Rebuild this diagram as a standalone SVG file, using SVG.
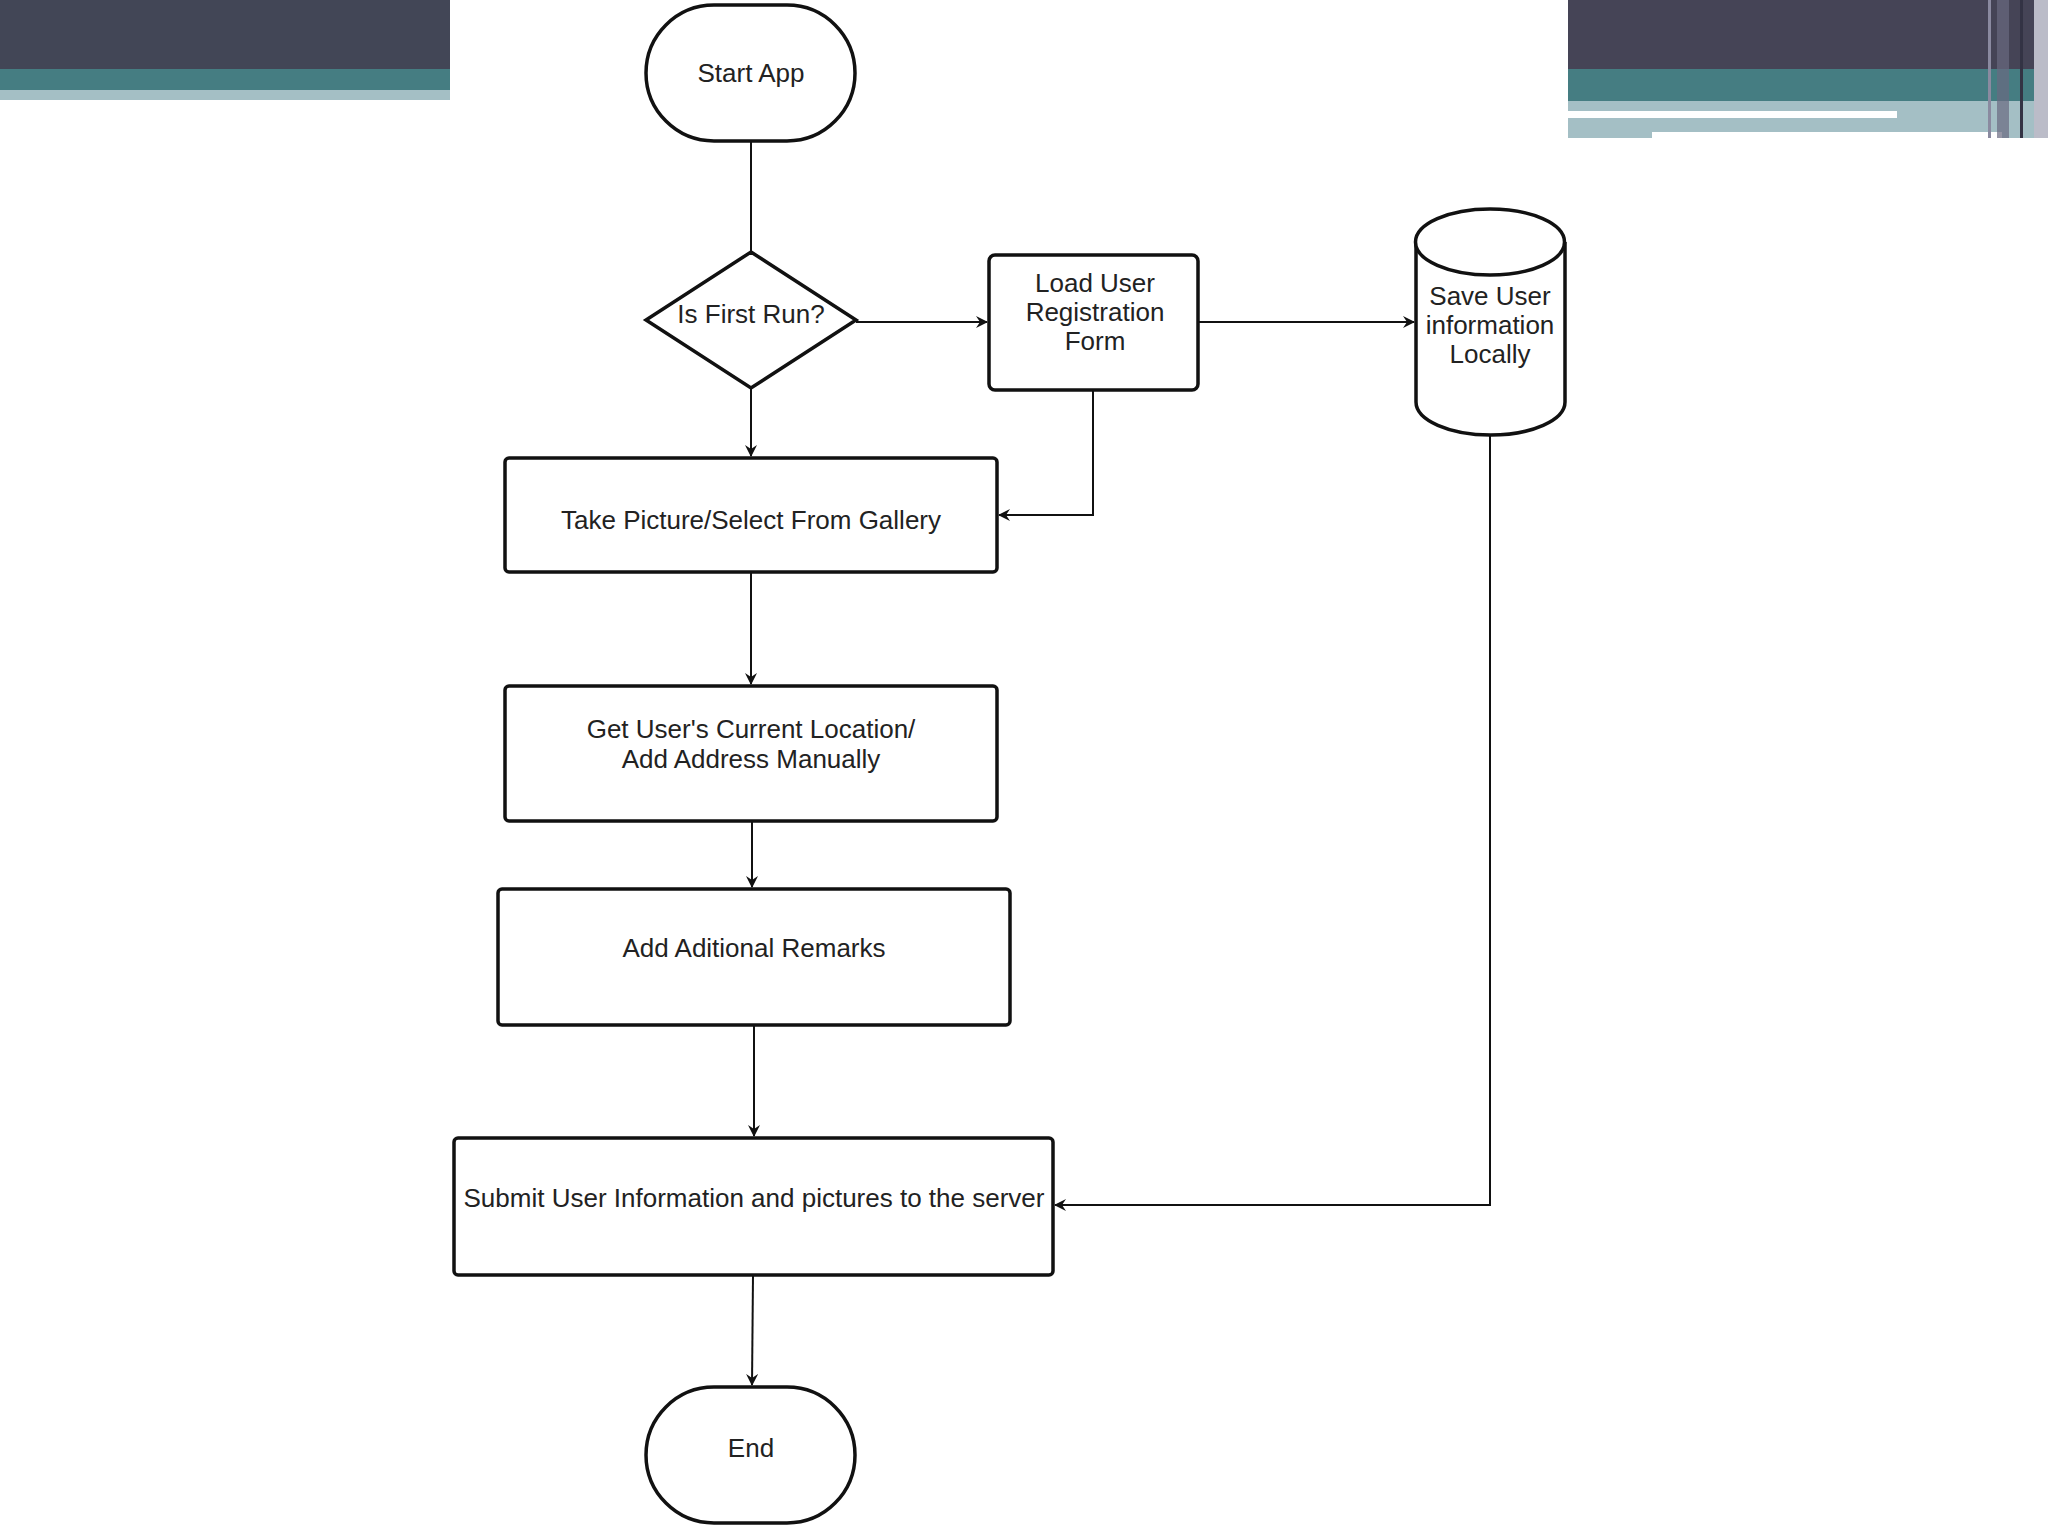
<svg xmlns="http://www.w3.org/2000/svg" width="2048" height="1536" viewBox="0 0 2048 1536">
<style>
.n{fill:#fff;stroke:#111;stroke-width:3.5}
.t{font-family:"Liberation Sans",Arial,sans-serif;font-size:26px;fill:#222;text-anchor:middle}
.c{fill:none;stroke:#111;stroke-width:2}
</style>
<defs><marker id="a" viewBox="0 0 12 12" refX="11" refY="6" markerWidth="12" markerHeight="12" markerUnits="userSpaceOnUse" orient="auto"><path d="M0,0 L12,6 L0,12 L4,6 Z" fill="#111"/></marker></defs>
<rect width="2048" height="1536" fill="#fff"/>
<g id="decor">
<rect x="0" y="0" width="450" height="69" fill="#424656"/>
<rect x="0" y="69" width="450" height="21" fill="#457d82"/>
<rect x="0" y="90" width="450" height="10" fill="#a4bfc5"/>
<rect x="1568" y="0" width="480" height="69" fill="#454456"/>
<rect x="1568" y="69" width="480" height="32" fill="#457d82"/>
<rect x="1568" y="101" width="480" height="37" fill="#a4bfc5"/>
<rect x="1568" y="111" width="329" height="7" fill="#fff"/>
<rect x="1652" y="132" width="350" height="8" fill="#fff"/>
<rect x="1988" y="0" width="3" height="138" fill="#8a8aa0"/>
<rect x="1997" y="0" width="12" height="138" fill="#6a6a80" opacity="0.7"/>
<rect x="2020" y="0" width="3" height="138" fill="#333344"/>
<rect x="2034" y="0" width="14" height="138" fill="#bbbcc8"/>
</g>
<g id="connectors">
<path class="c" d="M751,141 V252"/>
<path class="c" d="M751,388 V456" marker-end="url(#a)"/>
<path class="c" d="M856,322 H987" marker-end="url(#a)"/>
<path class="c" d="M1198,322 H1414" marker-end="url(#a)"/>
<path class="c" d="M1093,390 V515 H999" marker-end="url(#a)"/>
<path class="c" d="M1490,435 V1205 H1055" marker-end="url(#a)"/>
<path class="c" d="M751,572 V684" marker-end="url(#a)"/>
<path class="c" d="M752,821 V887" marker-end="url(#a)"/>
<path class="c" d="M754,1025 V1136" marker-end="url(#a)"/>
<path class="c" d="M753,1275 L752,1385" marker-end="url(#a)"/>
</g>
<g id="start"><rect class="n" x="646" y="5" width="209" height="136" rx="68"/><text class="t" x="751" y="73" dy="9">Start App</text></g>
<g id="decision"><path class="n" d="M751,252 L856,320 L751,388 L646,320 Z"/><text class="t" x="751" y="314" dy="9">Is First Run?</text></g>
<g id="load"><rect class="n" x="989" y="255" width="209" height="135" rx="6"/><text class="t" x="1095" y="292">Load User</text><text class="t" x="1095" y="321">Registration</text><text class="t" x="1095" y="350">Form</text></g>
<g id="save"><path class="n" d="M1416,242 V402 A74.5,33 0 0 0 1565,402 V242"/><ellipse class="n" cx="1490" cy="242" rx="74.5" ry="33"/><text class="t" x="1490" y="305">Save User</text><text class="t" x="1490" y="334">information</text><text class="t" x="1490" y="363">Locally</text></g>
<g id="take"><rect class="n" x="505" y="458" width="492" height="114" rx="4"/><text class="t" x="751" y="520" dy="9">Take Picture/Select From Gallery</text></g>
<g id="location"><rect class="n" x="505" y="686" width="492" height="135" rx="4"/><text class="t" x="751" y="738">Get User's Current Location/</text><text class="t" x="751" y="768">Add Address Manually</text></g>
<g id="remarks"><rect class="n" x="498" y="889" width="512" height="136" rx="4"/><text class="t" x="754" y="948" dy="9">Add Aditional Remarks</text></g>
<g id="submit"><rect class="n" x="454" y="1138" width="599" height="137" rx="4"/><text class="t" x="754" y="1198" dy="9">Submit User Information and pictures to the server</text></g>
<g id="end"><rect class="n" x="646" y="1387" width="209" height="136" rx="68"/><text class="t" x="751" y="1448" dy="9">End</text></g>
</svg>
